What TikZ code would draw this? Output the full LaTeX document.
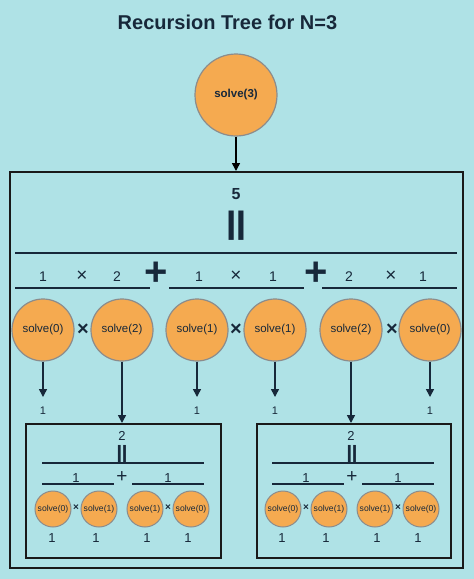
\documentclass[tikz,border=0pt]{standalone}
\usepackage{fontspec}
\setmainfont{Liberation Sans}
\usetikzlibrary{arrows.meta}
\definecolor{bg}{HTML}{AFE2E6}
\definecolor{org}{HTML}{F5AA50}
\definecolor{ring}{HTML}{8C8C8C}
\definecolor{ink}{HTML}{17283A}
\newcommand{\fsz}[1]{\fontsize{#1}{#1}\selectfont}
\begin{document}
\begin{tikzpicture}[x=1pt,y=-1pt,
  every node/.style={inner sep=0pt, text=ink},
  bigc/.style={circle, fill=org, draw=ring, line width=1.2pt, minimum size=62pt, font=\fsz{11.5}},
  smallc/.style={circle, fill=org, draw=ring, line width=1pt, minimum size=36pt, font=\fsz{8.6}},
  topc/.style={circle, fill=org, draw=ring, line width=1.2pt, minimum size=82pt, font=\bfseries\fsz{11.5}},
  arr/.style={draw=ink, line width=1.5pt, -{Triangle[length=8pt,width=8pt]}},
  toparr/.style={draw=black, line width=1.5pt, -{Triangle[length=8pt,width=8pt]}},
  rulel/.style={draw=ink, line width=1.3pt},
  frame/.style={draw=black!90, line width=2pt, minimum width=#1},
  num/.style={font=\fsz{14}},
  timesn/.style={font=\fsz{19}},
  lab/.style={font=\fsz{11}},
  subnum/.style={font=\fsz{13}},
  bigtimes/.style={font=\bfseries\fsz{20}},
  bigplus/.style={font=\bfseries\fsz{40}},
  eqbar/.style={font=\bfseries\fsz{#1}}
]
\fill[bg] (0,0) rectangle (474,579);
\useasboundingbox (0,0) rectangle (474,579);

\node[font=\bfseries\fsz{20}] (title) at (227.5,22) {Recursion Tree for N=3};
\node[topc] (root) at (236,95) {solve(3)};

% main frame
\node[frame=453pt, minimum height=396pt] (main) at (236.5,370) {};
\draw[toparr] (root.south) -- (root.south |- main.north);

\node[font=\bfseries\fsz{16}] (five) at (236,194) {5};
\node[eqbar=31] (eq1) at (236,226) {\scalebox{1.3}[1]{|\kern-1.2pt|}};
\coordinate (r0a) at (15,253); \coordinate (r0b) at (457,253);
\draw[rulel] (r0a) -- (r0b);

% product row
\node[num] (p1a) at (43,277) {1};
\node[timesn] (p1x) at (82,276) {×};
\node[num] (p1b) at (117,277) {2};
\node[bigplus] (pl1) at (156,274) {+};
\node[num] (p2a) at (199,277) {1};
\node[timesn] (p2x) at (236,276) {×};
\node[num] (p2b) at (273,277) {1};
\node[bigplus] (pl2) at (316,274) {+};
\node[num] (p3a) at (349,277) {2};
\node[timesn] (p3x) at (391,276) {×};
\node[num] (p3b) at (423,277) {1};
\coordinate (u1a) at (15,288); \coordinate (u1b) at (150,288);
\coordinate (u2a) at (169,288); \coordinate (u2b) at (304,288);
\coordinate (u3a) at (322,288); \coordinate (u3b) at (457,288);
\draw[rulel] (u1a) -- (u1b);
\draw[rulel] (u2a) -- (u2b);
\draw[rulel] (u3a) -- (u3b);

% circle row
\node[bigc] (c1) at (43,330) {solve(0)};
\node[bigtimes] (x1) at (83,330) {×};
\node[bigc] (c2) at (122,330) {solve(2)};
\node[bigc] (c3) at (197,330) {solve(1)};
\node[bigtimes] (x2) at (236,330) {×};
\node[bigc] (c4) at (275,330) {solve(1)};
\node[bigc] (c5) at (351,330) {solve(2)};
\node[bigtimes] (x3) at (392,330) {×};
\node[bigc] (c6) at (430,330) {solve(0)};

\node[lab] (o1) at (43,411) {1};
\node[lab] (o3) at (197,411) {1};
\node[lab] (o4) at (275,411) {1};
\node[lab] (o6) at (430,411) {1};
\draw[arr] (c1.south) -- ([yshift=10pt]o1.north);
\draw[arr] (c3.south) -- ([yshift=10pt]o3.north);
\draw[arr] (c4.south) -- ([yshift=10pt]o4.north);
\draw[arr] (c6.south) -- ([yshift=10pt]o6.north);

% sub boxes
\node[frame=195pt, minimum height=134pt] (lbox) at (123.5,491) {};
\node[frame=194pt, minimum height=134pt] (rbox) at (354,491) {};
\draw[arr] (c2.south) -- (c2.south |- lbox.north);
\draw[arr] (c5.south) -- (c5.south |- rbox.north);

% left sub box content
\node[subnum] (l2) at (122,436) {2};
\node[eqbar=18] (leq) at (122,454) {\scalebox{1.2}[1]{|\kern-0.7pt|}};
\coordinate (lr0a) at (42,463); \coordinate (lr0b) at (204,463);
\draw[rulel] (lr0a) -- (lr0b);
\node[subnum] (lf1) at (76,478) {1};
\node[font=\fsz{19}] (lplus) at (122,477) {+};
\node[subnum] (lf2) at (168,478) {1};
\coordinate (lu1a) at (42,484); \coordinate (lu1b) at (114,484);
\coordinate (lu2a) at (132,484); \coordinate (lu2b) at (204,484);
\draw[rulel] (lu1a) -- (lu1b);
\draw[rulel] (lu2a) -- (lu2b);
\node[smallc] (ls1) at (53,509) {solve(0)};
\node[font=\bfseries\fsz{10}] (lx1) at (76,508) {×};
\node[smallc] (ls2) at (99,509) {solve(1)};
\node[smallc] (ls3) at (145,509) {solve(1)};
\node[font=\bfseries\fsz{10}] (lx2) at (168,508) {×};
\node[smallc] (ls4) at (191,509) {solve(0)};
\node[subnum] (lo1) at (52,538) {1};
\node[subnum] (lo2) at (96,538) {1};
\node[subnum] (lo3) at (147,538) {1};
\node[subnum] (lo4) at (188,538) {1};

% right sub box content
\node[subnum] (r2) at (351,436) {2};
\node[eqbar=18] (req) at (352,454) {\scalebox{1.2}[1]{|\kern-0.7pt|}};
\coordinate (rr0a) at (272,463); \coordinate (rr0b) at (434,463);
\draw[rulel] (rr0a) -- (rr0b);
\node[subnum] (rf1) at (306,478) {1};
\node[font=\fsz{19}] (rplus) at (352,477) {+};
\node[subnum] (rf2) at (398,478) {1};
\coordinate (ru1a) at (272,484); \coordinate (ru1b) at (344,484);
\coordinate (ru2a) at (362,484); \coordinate (ru2b) at (434,484);
\draw[rulel] (ru1a) -- (ru1b);
\draw[rulel] (ru2a) -- (ru2b);
\node[smallc] (rs1) at (283,509) {solve(0)};
\node[font=\bfseries\fsz{10}] (rx1) at (306,508) {×};
\node[smallc] (rs2) at (329,509) {solve(1)};
\node[smallc] (rs3) at (375,509) {solve(1)};
\node[font=\bfseries\fsz{10}] (rx2) at (398,508) {×};
\node[smallc] (rs4) at (421,509) {solve(0)};
\node[subnum] (ro1) at (282,538) {1};
\node[subnum] (ro2) at (326,538) {1};
\node[subnum] (ro3) at (377,538) {1};
\node[subnum] (ro4) at (418,538) {1};
\end{tikzpicture}
\end{document}
